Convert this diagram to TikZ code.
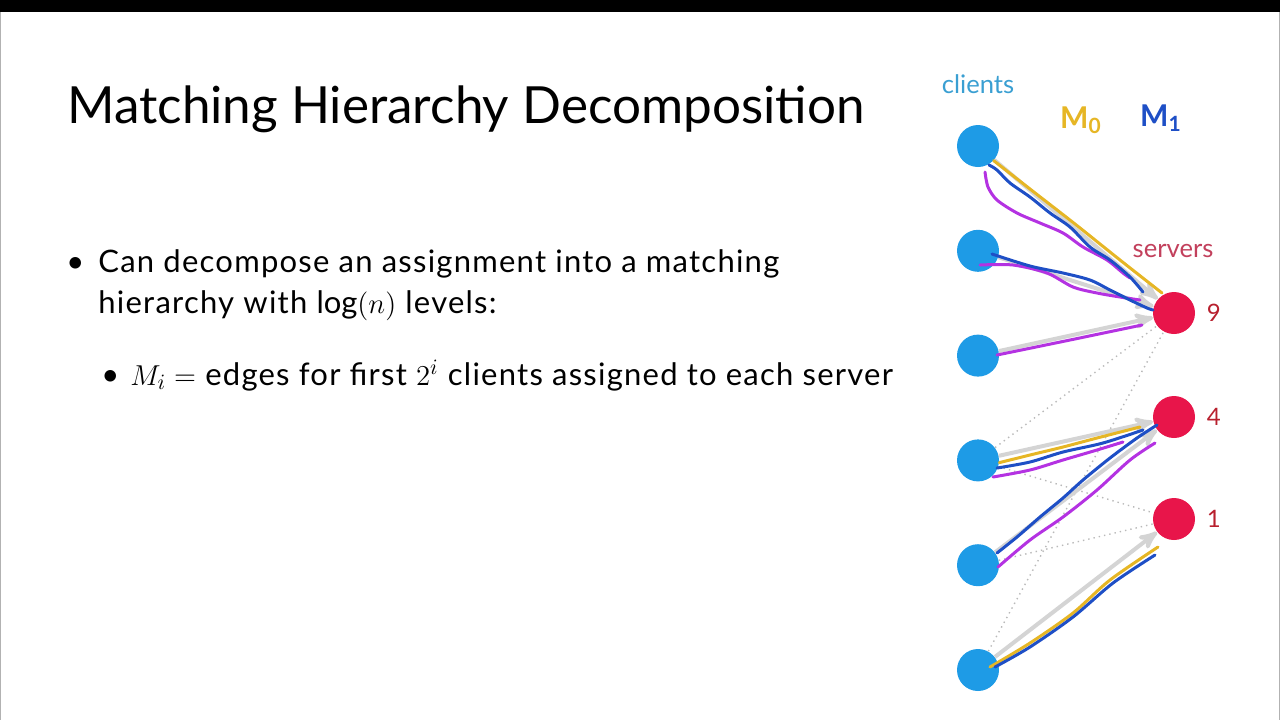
\documentclass[tikz,border=0pt]{standalone}
\usepackage{fontspec}
\setmainfont{Lato}
\newfontfamily\bodyfont[LetterSpace=4]{Lato}
\usetikzlibrary{arrows,positioning}
\definecolor{clientblue}{HTML}{1E9BE6}
\definecolor{serverred}{HTML}{E8154A}
\definecolor{labelblue}{HTML}{3A9FD2}
\definecolor{labelred}{HTML}{C2405C}
\definecolor{numred}{HTML}{B8202E}
\definecolor{penyellow}{HTML}{E6B625}
\definecolor{penblue}{HTML}{1E4FC6}
\definecolor{penpurple}{HTML}{B432E2}
\definecolor{edgegray}{HTML}{D4D4D4}
\tikzset{
    %Define standard arrow tip
    >=stealth',
    client/.style={
      circle,
      fill=clientblue,
      minimum size=21pt,
      inner sep=0pt},
    server/.style={
      circle,
      fill=serverred,
      minimum size=21pt,
      inner sep=0pt},
    assigned/.style={
      ->,
      draw=edgegray,
      line width=2pt},
    spare/.style={
      draw=gray!55,
      dotted,
      line width=0.7pt},
    pen/.style={
      line width=1.5pt,
      line cap=round,
      line join=round},
    mzero/.style={pen, draw=penyellow},
    mone/.style={pen, draw=penblue},
    mtwo/.style={pen, draw=penpurple},
    slidetext/.style={
      anchor=base west,
      inner sep=0pt,
      font=\bodyfont\fontsize{15.5}{18}\selectfont},
}

\begin{document}
\begin{tikzpicture}[x=0.5pt, y=-0.5pt, node distance=31pt]
    \useasboundingbox (0,0) rectangle (1280,720);
    % slide frame
    \fill[black] (0,0) rectangle (1280,12);
    \draw[gray!60, line width=0.5pt] (0.5,12) -- (0.5,720);
    \draw[gray!60, line width=0.5pt] (1279.5,12) -- (1279.5,720);

    % text
    \node (title) [anchor=base west, inner sep=0pt,
          font=\fontsize{25.6}{30}\selectfont] at (67,123)
          {Matching Hierarchy Decomposition};
    \node (dot1) [slidetext] at (66,272) {•};
    \node (item1) [slidetext] at (98,272)
          {Can decompose an assignment into a matching};
    \node (item1b) [slidetext] at (98,313)
          {hierarchy with $\log(n)$ levels:};
    \node (dot2) [slidetext] at (101,385) {•};
    \node (item2) [slidetext] at (130,385)
          {$M_i =$ edges for first $2^i$ clients assigned to each server};

    % clients and servers
    \node (c1) [client] at (978,146) {};
    \node (c2) [client] [below=of c1] {};
    \node (c3) [client] [below=of c2] {};
    \node (c4) [client] [below=of c3] {};
    \node (c5) [client] [below=of c4] {};
    \node (c6) [client] [below=of c5] {};
    \node (s9) [server] at (1174,313) {};
    \node (s4) [server] [below=30.6pt of s9] {};
    \node (s1) [server] [below=29.6pt of s4] {};

    \node (clients) [anchor=base, inner sep=0pt, text=labelblue,
          font=\fontsize{12.8}{15}\selectfont] at (978,93) {clients};
    \node (servers) [anchor=base, inner sep=0pt, text=labelred,
          font=\fontsize{12.8}{15}\selectfont] at (1173,257) {servers};
    \node (n9) [right=5.5pt of s9, inner sep=0pt, text=numred,
          font=\fontsize{12}{14}\selectfont] {9};
    \node (n4) [right=5.5pt of s4, inner sep=0pt, text=numred,
          font=\fontsize{12}{14}\selectfont] {4};
    \node (n1) [right=5.5pt of s1, inner sep=0pt, text=numred,
          font=\fontsize{12}{14}\selectfont] {1};

    % assignment and unused edges
    \draw[spare] (c4) -- (s9);
    \draw[spare] (c6) -- (s9);
    \draw[spare] (c4) -- (s1);
    \draw[spare] (c5) -- (s1);
    \draw[assigned] (c1) -- (s9);
    \draw[assigned] (c2) -- (s9);
    \draw[assigned] (c3) -- (s9);
    \draw[assigned] (c4) -- (s4);
    \draw[assigned] (c5) -- (s4);
    \draw[assigned] (c6) -- (s1);

    % hand drawn matchings
    \node (m0) [inner sep=0pt, text=penyellow,
          font=\fontsize{15}{17}\selectfont\bfseries] at (1081,120)
          {M\textsubscript{0}};
    \node (m1) [inner sep=0pt, text=penblue,
          font=\fontsize{15}{17}\selectfont\bfseries] at (1161,118)
          {M\textsubscript{1}};

    \draw[mtwo] plot[smooth] coordinates {(985,172) (988,187) (997,200)
          (1017,213) (1040,223) (1063,233) (1083,247) (1107,260) (1123,273) (1130,278)};
    \draw[mtwo] plot[smooth] coordinates {(980,265) (1013,265) (1047,273)
          (1073,287) (1097,293) (1120,297) (1140,300)};
    \draw[mtwo] plot[smooth] coordinates {(997,355) (1070,340) (1142,325)};
    \draw[mtwo] plot[smooth] coordinates {(993,477) (1030,470) (1063,460)
          (1097,450) (1123,442)};
    \draw[mtwo] plot[smooth] coordinates {(998,567) (1030,540) (1063,517)
          (1097,490) (1130,460) (1155,443)};

    \draw[mzero] plot[smooth] coordinates {(c1.-43) (1030,189) (1075,224)
          (1120,260) (1162,293)};
    \draw[mzero] plot[smooth] coordinates {(c4.-6) (1030,455) (1063,447)
          (1097,438) (1140,427)};
    \draw[mzero] plot[smooth] coordinates {(990,667) (1030,643) (1073,613)
          (1110,580) (1158,547)};

    \draw[mone] plot[smooth] coordinates {(989,165) (997,170) (1010,183)
          (1030,197) (1050,213) (1070,227) (1090,247) (1110,260) (1130,277) (1143,292)};
    \draw[mone] plot[smooth] coordinates {(992,254) (1030,266) (1063,273)
          (1090,280) (1110,290) (1130,300) (1147,308) (1153,310)};
    \draw[mone] plot[smooth] coordinates {(997,468) (1030,462) (1063,452)
          (1103,443) (1143,430)};
    \draw[mone] plot[smooth] coordinates {(997,553) (1017,537) (1040,517)
          (1063,498) (1083,480) (1110,458) (1137,438) (1157,425)};
    \draw[mone] plot[smooth] coordinates {(995,667) (1030,647) (1073,617)
          (1113,583) (1155,555)};
  \end{tikzpicture}
\end{document}
